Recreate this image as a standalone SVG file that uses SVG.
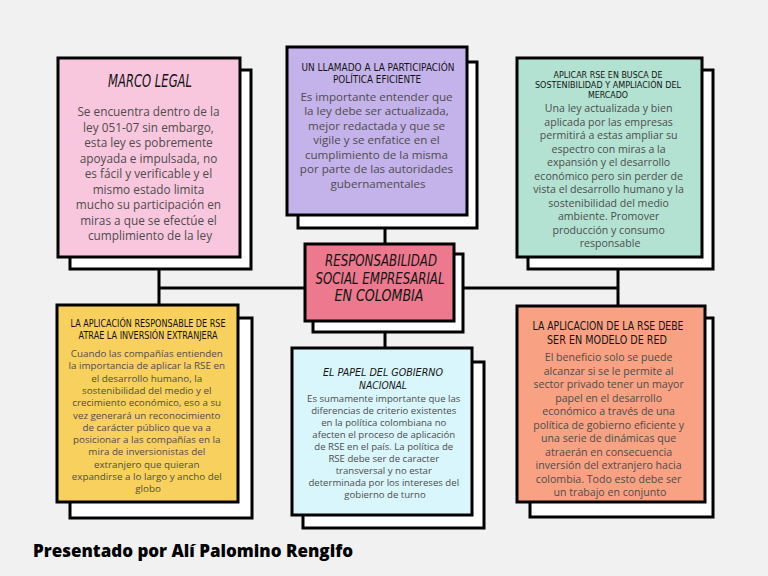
<svg xmlns="http://www.w3.org/2000/svg" width="768" height="576" viewBox="0 0 768 576">
<style>
.sh{fill:#fff;stroke:#000;stroke-width:3}
.fr{stroke:#000;stroke-width:3}
.con{fill:none;stroke:#000;stroke-width:3}
.t{font-family:"DejaVu Sans","Liberation Sans",sans-serif;fill:#141414;text-anchor:middle}
.ti{font-style:italic}
.b{font-family:"Open Sans","Noto Sans",sans-serif;fill:#4d4d4d;text-anchor:middle}
</style>
<rect width="768" height="576" fill="#f1f1f1"/>
<g id="connectors">
<path class="con" d="M159 269V307M159 288H305M463 288H618M618 269V306M385 227V244M385 332V348"/>
</g>
<g id="marco-legal">
<rect class="sh" x="70" y="70" width="181" height="199"/>
<rect class="fr" x="58" y="58" width="182" height="199" fill="#f9c7dd"/>
<text class="t ti" x="150" y="87" font-size="18" textLength="84" lengthAdjust="spacingAndGlyphs">MARCO LEGAL</text>
<text class="b" font-size="11.8">
<tspan x="150" y="116">Se encuentra dentro de la</tspan>
<tspan x="150" y="131.5">ley 051-07 sin embargo,</tspan>
<tspan x="150" y="147">esta ley es pobremente</tspan>
<tspan x="150" y="162.5">apoyada e impulsada, no</tspan>
<tspan x="150" y="178">es fácil y verificable y el</tspan>
<tspan x="150" y="193.5">mismo estado limita</tspan>
<tspan x="150" y="209">mucho su participación en</tspan>
<tspan x="150" y="224.5">miras a que se efectúe el</tspan>
<tspan x="150" y="240">cumplimiento de la ley</tspan>
</text>
</g>
<g id="llamado">
<rect class="sh" x="298" y="62" width="179" height="166"/>
<rect class="fr" x="287" y="47" width="180" height="168" fill="#c4b2ea"/>
<text class="t" x="378" y="70.5" font-size="10.5" textLength="153" lengthAdjust="spacingAndGlyphs">UN LLAMADO A LA PARTICIPACIÓN</text>
<text class="t" x="377" y="83" font-size="10.5" textLength="88" lengthAdjust="spacingAndGlyphs">POLÍTICA EFICIENTE</text>
<text class="b" font-size="11.6">
<tspan x="378" y="101">Es importante entender que</tspan>
<tspan x="378" y="115">la ley debe ser actualizada,</tspan>
<tspan x="378" y="130">mejor redactada y que se</tspan>
<tspan x="378" y="144">vigile y se enfatice en el</tspan>
<tspan x="378" y="159">cumplimiento de la misma</tspan>
<tspan x="378" y="173">por parte de las autoridades</tspan>
<tspan x="378" y="188">gubernamentales</tspan>
</text>
</g>
<g id="aplicar-rse">
<rect class="sh" x="528" y="70" width="185" height="199"/>
<rect class="fr" x="517" y="58" width="185" height="199" fill="#b3e2d2"/>
<text class="t" x="608" y="78" font-size="9" textLength="109" lengthAdjust="spacingAndGlyphs">APLICAR RSE EN BUSCA DE</text>
<text class="t" x="608" y="88" font-size="9" textLength="146" lengthAdjust="spacingAndGlyphs">SOSTENIBILIDAD Y AMPLIACIÓN DEL</text>
<text class="t" x="608" y="98" font-size="9" textLength="40" lengthAdjust="spacingAndGlyphs">MERCADO</text>
<text class="b" font-size="10.6">
<tspan x="610" y="112">Una ley actualizada y bien</tspan>
<tspan x="610" y="125.5">aplicada por las empresas</tspan>
<tspan x="610" y="139">permitirá a estas ampliar su</tspan>
<tspan x="610" y="152.5">espectro con miras a la</tspan>
<tspan x="610" y="166">expansión y el desarrollo</tspan>
<tspan x="610" y="179.5">económico pero sin perder de</tspan>
<tspan x="610" y="193">vista el desarrollo humano y la</tspan>
<tspan x="610" y="206.5">sostenibilidad del medio</tspan>
<tspan x="610" y="220">ambiente. Promover</tspan>
<tspan x="610" y="233.5">producción y consumo</tspan>
<tspan x="610" y="247">responsable</tspan>
</text>
</g>
<g id="central">
<rect class="sh" x="313" y="254" width="150" height="78"/>
<rect class="fr" x="305" y="244" width="149" height="77" fill="#ec798d"/>
<text class="t ti" x="381" y="266" font-size="15.5" textLength="112" lengthAdjust="spacingAndGlyphs">RESPONSABILIDAD</text>
<text class="t ti" x="380" y="284" font-size="15.5" textLength="129" lengthAdjust="spacingAndGlyphs">SOCIAL EMPRESARIAL</text>
<text class="t ti" x="379" y="301" font-size="15.5" textLength="89" lengthAdjust="spacingAndGlyphs">EN COLOMBIA</text>
</g>
<g id="inversion">
<rect class="sh" x="70" y="318" width="182" height="200"/>
<rect class="fr" x="57" y="305" width="181" height="197" fill="#f8d05e"/>
<text class="t" x="148" y="326.5" font-size="10" textLength="155" lengthAdjust="spacingAndGlyphs">LA APLICACIÓN RESPONSABLE DE RSE</text>
<text class="t" x="148" y="338.5" font-size="10" textLength="139" lengthAdjust="spacingAndGlyphs">ATRAE LA INVERSIÓN EXTRANJERA</text>
<text class="b" font-size="9.8">
<tspan x="148" y="357">Cuando las compañías entienden</tspan>
<tspan x="148" y="369.3">la importancia de aplicar la RSE en</tspan>
<tspan x="148" y="381.6">el desarrollo humano, la</tspan>
<tspan x="148" y="393.9">sostenibilidad del medio y el</tspan>
<tspan x="148" y="406.2">crecimiento económico, eso a su</tspan>
<tspan x="148" y="418.5">vez generará un reconocimiento</tspan>
<tspan x="148" y="430.8">de carácter público que va a</tspan>
<tspan x="148" y="443.1">posicionar a las compañías en la</tspan>
<tspan x="148" y="455.4">mira de inversionistas del</tspan>
<tspan x="148" y="467.7">extranjero que quieran</tspan>
<tspan x="148" y="480">expandirse a lo largo y ancho del</tspan>
<tspan x="148" y="492.3">globo</tspan>
</text>
</g>
<g id="gobierno">
<rect class="sh" x="303" y="362" width="181" height="166"/>
<rect class="fr" x="292" y="348" width="180" height="167" fill="#d9f6fc"/>
<text class="t ti" x="383" y="375.5" font-size="11" textLength="120" lengthAdjust="spacingAndGlyphs">EL PAPEL DEL GOBIERNO</text>
<text class="t ti" x="383" y="388.5" font-size="11" textLength="48" lengthAdjust="spacingAndGlyphs">NACIONAL</text>
<text class="b" font-size="9.6">
<tspan x="385" y="401.5">Es sumamente importante que las</tspan>
<tspan x="385" y="413.6">diferencias de criterio existentes</tspan>
<tspan x="385" y="425.7">en la política colombiana no</tspan>
<tspan x="385" y="437.8">afecten el proceso de aplicación</tspan>
<tspan x="385" y="449.9">de RSE en el país. La política de</tspan>
<tspan x="385" y="462">RSE debe ser de caracter</tspan>
<tspan x="385" y="474.1">transversal y no estar</tspan>
<tspan x="385" y="486.2">determinada por los intereses del</tspan>
<tspan x="385" y="498.3">gobierno de turno</tspan>
</text>
</g>
<g id="modelo-red">
<rect class="sh" x="530" y="318" width="183" height="199"/>
<rect class="fr" x="517" y="306" width="188" height="196" fill="#f8a283"/>
<text class="t" x="608" y="329.5" font-size="11.5" textLength="151" lengthAdjust="spacingAndGlyphs">LA APLICACION DE LA RSE DEBE</text>
<text class="t" x="607" y="343.5" font-size="11.5" textLength="120" lengthAdjust="spacingAndGlyphs">SER EN MODELO DE RED</text>
<text class="b" font-size="10.6">
<tspan x="610" y="361">El beneficio solo se puede</tspan>
<tspan x="610" y="374.5">alcanzar si se le permite al</tspan>
<tspan x="610" y="388">sector privado tener un mayor</tspan>
<tspan x="610" y="401.5">papel en el desarrollo</tspan>
<tspan x="610" y="415">económico a través de una</tspan>
<tspan x="610" y="428.5">política de gobierno eficiente y</tspan>
<tspan x="610" y="442">una serie de dinámicas que</tspan>
<tspan x="610" y="455.5">atraerán en consecuencia</tspan>
<tspan x="610" y="469">inversión del extranjero hacia</tspan>
<tspan x="610" y="482.5">colombia. Todo esto debe ser</tspan>
<tspan x="610" y="496">un trabajo en conjunto</tspan>
</text>
</g>
<text x="33" y="557" font-family="'Open Sans','Noto Sans',sans-serif" font-weight="800" font-size="17" fill="#000" textLength="320" lengthAdjust="spacingAndGlyphs">Presentado por Alí Palomino Rengifo</text>
</svg>
